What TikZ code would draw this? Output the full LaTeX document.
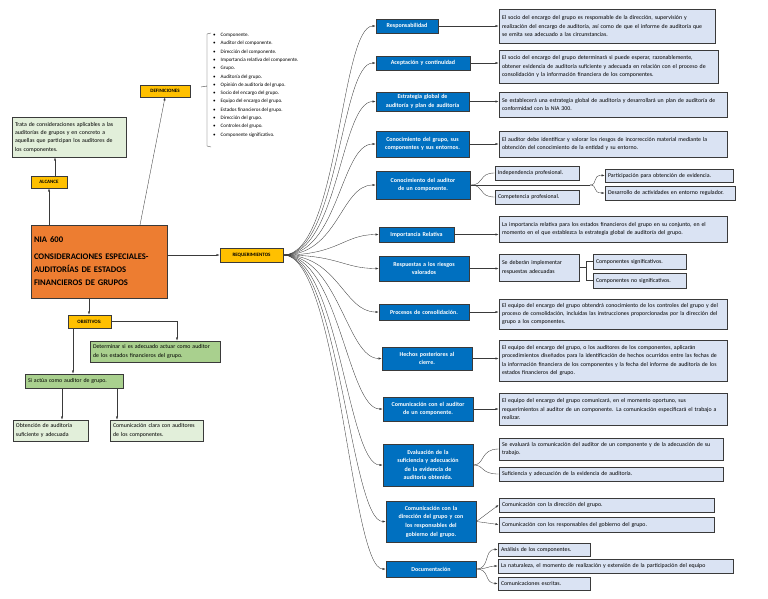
\documentclass[tikz,border=0pt]{standalone}
\usepackage{fontspec}
\setmainfont{Carlito}
\usetikzlibrary{arrows.meta}
\definecolor{orng}{HTML}{ED7D31}
\definecolor{yel}{HTML}{FFC000}
\definecolor{grn}{HTML}{A9D08E}
\definecolor{lgrn}{HTML}{E2EFDA}
\definecolor{blu}{HTML}{0070C0}
\definecolor{lblu}{HTML}{DAE3F3}
\definecolor{edge}{HTML}{3A3A3A}
\newcommand\B[7]{\pgfmathsetmacro\bw{#5-#3}\pgfmathsetmacro\bh{#6-#4}\pgfmathsetmacro\tw{#5-#3-6}%
\node[#2,minimum width=\bw pt,minimum height=\bh pt,text width=\tw pt] (#1) at ({(#3+#5)/2},{(#4+#6)/2}) {#7};}
\begin{document}
\begin{tikzpicture}[x=1pt,y=-1pt,
 nh/.style={execute at begin node={\hyphenpenalty=10000\exhyphenpenalty=10000}},
 box/.style={draw=edge,line width=0.9pt,inner xsep=3pt,inner ysep=1pt,nh,font=\fontsize{5.85}{8.3}\selectfont},
 yb/.style={box,fill=yel,align=center,font=\bfseries\fontsize{5}{7}\selectfont},
 gb/.style={box,fill=grn},
 lg/.style={box,fill=lgrn},
 bb/.style={box,fill=blu,text=white,align=center,inner xsep=1pt,font=\bfseries\fontsize{6}{8.6}\selectfont},
 rb/.style={box,fill=lblu,align=left},
 arr/.style={draw=edge,line width=0.35pt,-{Latex[length=3pt,width=2.2pt]}},
 ln/.style={draw=edge,line width=0.35pt}]
\useasboundingbox (0,0) rectangle (768,598);
% left side
\B{nia}{box,fill=orng,align=left,font=\bfseries\fontsize{8.6}{13}\selectfont}{31}{225}{167}{298}{NIA 600\\[4pt]CONSIDERACIONES ESPECIALES-\\AUDITORÍAS DE ESTADOS\\FINANCIEROS DE GRUPOS}
\B{alc}{yb}{31}{176}{67}{188}{ALCANCE}
\B{alct}{lg,align=left}{12}{117}{126}{157}{Trata de consideraciones aplicables a las auditorías de grupos y en concreto a aquellas que participan los auditores de los componentes.}
\B{def}{yb}{140}{85}{190}{97}{DEFINICIONES}
\node[anchor=north west,inner sep=0pt,align=left,font=\fontsize{5.1}{8.3}\selectfont] (deflist) at (213,33) {%
\textbullet\hspace{5pt}Componente.\\
\textbullet\hspace{5pt}Auditor del componente.\\
\textbullet\hspace{5pt}Dirección del componente.\\
\textbullet\hspace{5pt}Importancia relativa del componente.\\
\textbullet\hspace{5pt}Grupo.\\
\textbullet\hspace{5pt}Auditoría del grupo.\\
\textbullet\hspace{5pt}Opinión de auditoría del grupo.\\
\textbullet\hspace{5pt}Socio del encargo del grupo.\\
\textbullet\hspace{5pt}Equipo del encargo del grupo.\\
\textbullet\hspace{5pt}Estados financieros del grupo.\\
\textbullet\hspace{5pt}Dirección del grupo.\\
\textbullet\hspace{5pt}Controles del grupo.\\
\textbullet\hspace{5pt}Componente significativo.};
\coordinate (brk) at (201,87);
\draw[ln] (211,33) -- (207,34) -- (207,86) -- (brk) (207,86) -- (207,146) -- (211,147);
\B{req}{yb}{220}{248}{283}{262}{REQUERIMIENTOS}
\B{obj}{yb}{68}{315}{111}{328}{OBJETIVOS:}
\B{det}{gb,align=left}{90}{341}{220}{362}{Determinar si es adecuado actuar como auditor de los estados financieros del grupo.}
\B{si}{gb,align=left}{25}{374}{123}{388}{Si actúa como auditor de grupo.}
\B{obt}{lg,align=left}{13}{420}{88}{441}{Obtención de auditoría suficiente y adecuada}
\B{com}{lg,align=left}{110}{420}{203}{441}{Comunicación clara con auditores de los componentes.}
\draw[arr] (nia.north -| alc) -- (alc.south);
\draw[arr] (alc.north -| 55,0) -- (alct.south -| 55,0);
\draw[arr] (140,225) -- (def.south);
\draw[arr] (nia.east |- req) -- (req.west);
\draw[arr] (nia.south -| 89,0) -- (obj.north -| 89,0);
\draw[arr] (obj.east) -| (det.north -| 177,0);
\draw[arr] (obj.south -| 73,0) -- (si.north -| 73,0);
\draw[arr] (si.south -| 62,0) -- (obt.north -| 62,0);
\draw[arr] (si.south -| 117,0) -- (com.north -| 117,0);
% blue boxes
\B{b1}{bb}{376}{19}{438}{33}{Responsabilidad}
\B{b2}{bb}{376}{56}{470}{70}{Aceptación y continuidad}
\B{b3}{bb}{376}{92}{469}{111}{Estrategia global de auditoría y plan de auditoría}
\B{b4}{bb}{376}{131}{469}{157}{Conocimiento del grupo, sus componentes y sus entornos.}
\B{b5}{bb}{376}{171}{470}{199}{Conocimiento del auditor de un componente.}
\B{b6}{bb}{379}{227}{454}{242}{Importancia Relativa}
\B{b7}{bb}{379}{256}{469}{281}{Respuestas a los riesgos\\valorados}
\B{b8}{bb}{379}{304}{469}{320}{Procesos de consolidación.}
\B{b9}{bb}{382}{347}{472}{370}{Hechos posteriores al\\cierre.}
\B{b10}{bb}{383}{397}{473}{421}{Comunicación con el auditor\\de un componente.}
\B{b11}{bb}{383}{444}{473}{486}{Evaluación de la\\suficiencia y adecuación\\de la evidencia de\\auditoría obtenida.}
\B{b12}{bb}{386}{501}{476}{542}{Comunicación con la\\dirección del grupo y con\\los responsables del\\gobierno del grupo.}
\B{b13}{bb}{386}{561}{476}{577}{Documentación}
\foreach \b in {b1,b2,b3,b4,b5,b6,b7,b8,b9,b10,b11,b12,b13}
  \draw[arr] (req.east) .. controls +(55,0) and +(-35,0) .. (\b.west);
% right boxes
\B{r1}{rb}{499}{9}{715}{43}{El socio del encargo del grupo es responsable de la dirección, supervisión y realización del encargo de auditoría, así como de que el informe de auditoría que se emita sea adecuado a las circunstancias.}
\B{r2}{rb}{499}{50}{718}{83}{El socio del encargo del grupo determinará si puede esperar, razonablemente, obtener evidencia de auditoría suficiente y adecuada en relación con el proceso de consolidación y la información financiera de los componentes.}
\B{r3}{rb}{499}{92}{727}{117}{Se establecerá una estrategia global de auditoría y desarrollará un plan de auditoría de conformidad con la NIA 300.}
\B{r4}{rb}{499}{131}{727}{157}{El auditor debe identificar y valorar los riesgos de incorrección material mediante la obtención del conocimiento de la entidad y su entorno.}
\B{r5a}{rb}{495}{166}{579}{180}{Independencia profesional.}
\B{r5b}{rb}{495}{190}{579}{204}{Competencia profesional.}
\B{r5c}{rb}{605}{169}{733}{182}{Participación para obtención de evidencia.}
\B{r5d}{rb}{605}{186}{735}{200}{Desarrollo de actividades en entorno regulador.}
\B{r6}{rb}{499}{216}{727}{242}{La importancia relativa para los estados financieros del grupo en su conjunto, en el momento en el que establezca la estrategia global de auditoría del grupo.}
\B{r7}{rb}{499}{254}{579}{281}{Se deberán implementar respuestas adecuadas}
\B{r7a}{rb}{593}{254}{686}{269}{Componentes significativos.}
\B{r7b}{rb}{593}{273}{686}{288}{Componentes no significativos.}
\B{r8}{rb}{499}{299}{727}{329}{El equipo del encargo del grupo obtendrá conocimiento de los controles del grupo y del proceso de consolidación, incluidas las instrucciones proporcionadas por la dirección del grupo a los componentes.}
\B{r9}{rb}{499}{340}{727}{381}{El equipo del encargo del grupo, o los auditores de los componentes, aplicarán procedimientos diseñados para la identificación de hechos ocurridos entre las fechas de la información financiera de los componentes y la fecha del informe de auditoría de los estados financieros del grupo.}
\B{r10}{rb}{499}{393}{727}{425}{El equipo del encargo del grupo comunicará, en el momento oportuno, sus requerimientos al auditor de un componente. La comunicación especificará el trabajo a realizar.}
\B{r11a}{rb}{499}{438}{723}{460}{Se evaluará la comunicación del auditor de un componente y de la adecuación de su trabajo.}
\B{r11b}{rb}{499}{467}{723}{481}{Suficiencia y adecuación de la evidencia de auditoría.}
\B{r12a}{rb}{499}{498}{714}{512}{Comunicación con la dirección del grupo.}
\B{r12b}{rb}{499}{517}{714}{532}{Comunicación con los responsables del gobierno del grupo.}
\B{r13a}{rb}{498}{543}{590}{556}{Análisis de los componentes.}
\B{r13b}{rb}{498}{559}{733}{573}{La naturaleza, el momento de realización y extensión de la participación del equipo}
\B{r13c}{rb}{498}{577}{590}{590}{Comunicaciones escritas.}
\foreach \a/\b in {b1/r1,b2/r2,b3/r3,b4/r4,b6/r6,b7/r7,b8/r8,b9/r9,b10/r10}
  \draw[arr] (\a.east) -- (\a.east -| \b.west);
% b5 branches
\coordinate (j5) at (590,185);
\draw[ln] (b5.east) .. controls (485,185) and (478,173) .. (r5a.west);
\draw[ln] (b5.east) .. controls (485,185) and (478,197) .. (r5b.west);
\draw[ln] (b5.east) -- (j5);
\draw[arr] (j5) .. controls (598,185) and (592,175) .. (r5c.west);
\draw[arr] (j5) .. controls (598,185) and (592,193) .. (r5d.west);
% b7 bracket
\draw[ln] (r7.east) -- (586,267.5) (586,261.5) -- (586,280.5) (586,261.5) -- (r7a.west) (586,280.5) -- (r7b.west);
% b11 brace
\draw[ln] (b11.east) .. controls (485,465) and (480,449) .. (r11a.west);
\draw[ln] (b11.east) .. controls (485,465) and (480,474) .. (r11b.west);
% b12
\draw[arr] (b12.east) -- (r12a.west);
\draw[arr] (b12.east) -- (r12b.west);
% b13
\draw[arr] (b13.east) .. controls (490,569) and (484,549) .. (r13a.west);
\draw[arr] (b13.east) .. controls (488,569) and (488,566) .. (r13b.west);
\draw[arr] (b13.east) .. controls (490,569) and (484,583) .. (r13c.west);
\end{tikzpicture}
\end{document}
